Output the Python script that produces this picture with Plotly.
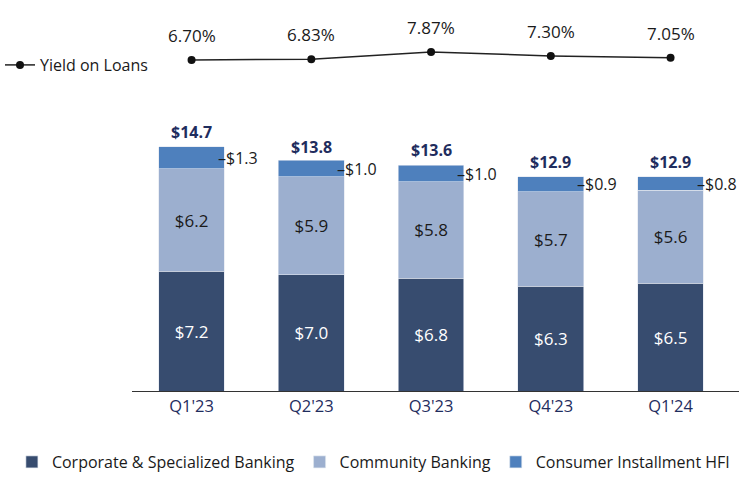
import plotly.graph_objects as go

# Loans HFI by segment ($B) and yield
quarters = ["Q1'23", "Q2'23", "Q3'23", "Q4'23", "Q1'24"]
corporate = [7.2, 7.0, 6.8, 6.3, 6.5]
community = [6.2, 5.9, 5.8, 5.7, 5.6]
consumer = [1.3, 1.0, 1.0, 0.9, 0.8]
totals = [14.7, 13.8, 13.6, 12.9, 12.9]
yield_pct = [6.70, 6.83, 7.87, 7.30, 7.05]

FONT = "Open Sans"
c_corp = "#374c6f"
c_comm = "#9cafcf"
c_cons = "#4e80bd"
navy = "#1f2d5e"

fig = go.Figure()

fig.add_trace(go.Bar(
    x=quarters, y=corporate, name="Corporate & Specialized Banking",
    marker=dict(color=c_corp, line=dict(color="#dfe5ef", width=0.6)),
    text=["$%.1f" % v for v in corporate], textposition="inside",
    insidetextanchor="middle", textfont=dict(color="white", size=17, family=FONT),
    legend="legend",
))
fig.add_trace(go.Bar(
    x=quarters, y=community, name="Community Banking",
    marker=dict(color=c_comm, line=dict(color="#dfe5ef", width=0.6)),
    text=["$%.1f" % v for v in community], textposition="inside",
    insidetextanchor="middle", textfont=dict(color="#1a1a1a", size=17, family=FONT),
    legend="legend",
))
fig.add_trace(go.Bar(
    x=quarters, y=consumer, name="Consumer Installment HFI",
    marker=dict(color=c_cons, line=dict(color="#dfe5ef", width=0.6)),
    legend="legend",
))

fig.add_trace(go.Scatter(
    x=quarters, y=yield_pct, name="Yield on Loans", yaxis="y2",
    mode="lines+markers", line=dict(color="#222222", width=1.5),
    marker=dict(color="#111111", size=8), legend="legend2",
))

# total labels above bars
for q, t in zip(quarters, totals):
    fig.add_annotation(x=q, y=t, text="<b>$%.1f</b>" % t, showarrow=False,
                       yanchor="bottom", yshift=2,
                       font=dict(size=16, color=navy, family=FONT))

# consumer labels to the right of each bar
for q, a, b, c in zip(quarters, corporate, community, consumer):
    fig.add_annotation(x=q, y=a + b + c / 2, text="–$%.1f" % c, showarrow=False,
                       xanchor="left", xshift=24,
                       font=dict(size=16, color="#1a1a1a", family=FONT))

# yield labels
for q, v in zip(quarters, yield_pct):
    fig.add_annotation(x=q, y=v, yref="y2", text="%.2f%%" % v, showarrow=False,
                       yanchor="bottom", yshift=11,
                       font=dict(size=17, color="#1a1a1a", family=FONT))

fig.update_layout(
    width=744, height=479,
    margin=dict(l=0, r=0, t=0, b=0),
    paper_bgcolor="white", plot_bgcolor="white",
    barmode="stack", bargap=0.45,
    font=dict(family=FONT, color="#1a1a1a"),
    xaxis=dict(domain=[0.177, 0.9927], showgrid=False, showline=True,
               linecolor="#333333", linewidth=1.2, ticks="",
               tickfont=dict(size=16.5, color=navy, family=FONT)),
    yaxis=dict(domain=[0.1837, 0.7382], range=[0, 16], visible=False),
    yaxis2=dict(domain=[0.8647, 0.9075], range=[6, 9], visible=False,
                anchor="x"),
    legend=dict(orientation="h", x=0.016, y=17 / 479, yanchor="middle",
                xanchor="left", traceorder="normal",
                font=dict(size=16, color="#1a1a1a", family=FONT),
                tracegroupgap=0),
    legend2=dict(x=0.0, y=414 / 479, yanchor="middle", xanchor="left",
                 font=dict(size=16, color="#1a1a1a", family=FONT),
                 bgcolor="rgba(0,0,0,0)"),
    showlegend=True,
)

fig.write_html("out.html", config={"displayModeBar": False},
               post_script="document.body.style.margin='0';"
                           "document.body.style.overflow='hidden';")
